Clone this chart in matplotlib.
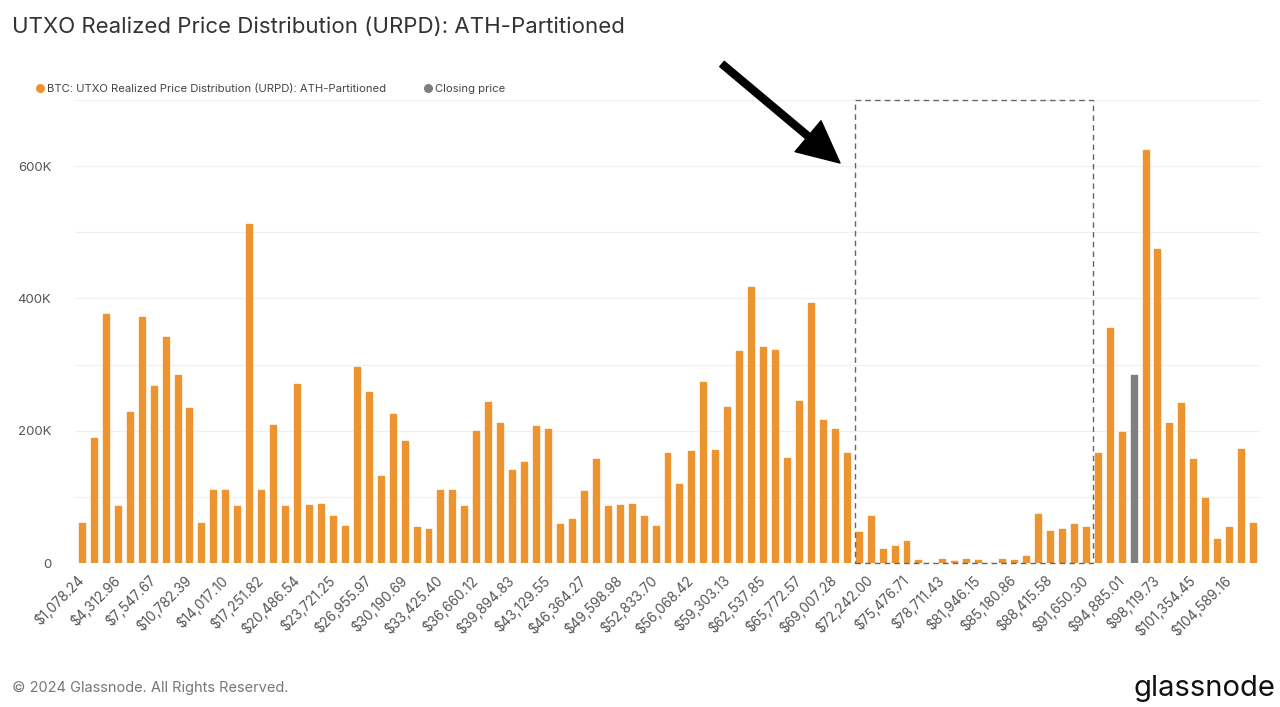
import matplotlib
matplotlib.use("Agg")
import matplotlib.pyplot as plt
from matplotlib.lines import Line2D
from matplotlib.patches import Rectangle
from matplotlib.ticker import MultipleLocator, FuncFormatter

plt.rcParams['font.family'] = ['Inter', 'DejaVu Sans']

# ---- data ----
supply_k = [61, 189, 377, 86, 229, 372, 268, 342, 284, 234,
            61, 111, 111, 86, 512, 111, 209, 86, 271, 87,
            89, 71, 56, 296, 258, 131, 226, 184, 55, 52,
            111, 111, 86, 199, 243, 212, 140, 153, 207, 202,
            59, 66, 109, 157, 86, 87, 89, 71, 56, 167,
            119, 169, 273, 171, 236, 320, 417, 327, 322, 159,
            245, 393, 216, 202, 167, 47, 71, 21, 26, 34,
            4.5, 0.5, 6, 2.5, 6, 4.5, 0.5, 6, 4.5, 10,
            74, 49, 52, 59, 54, 167, 355, 198, 284, 624,
            474, 212, 242, 157, 99, 36, 54, 172, 61]
closing_bin = 89  # bin (1-based) holding the closing price
tick_labels = ["$1,078.24", "$4,312.96", "$7,547.67", "$10,782.39", "$14,017.10",
               "$17,251.82", "$20,486.54", "$23,721.25", "$26,955.97", "$30,190.69",
               "$33,425.40", "$36,660.12", "$39,894.83", "$43,129.55", "$46,364.27",
               "$49,598.98", "$52,833.70", "$56,068.42", "$59,303.13", "$62,537.85",
               "$65,772.57", "$69,007.28", "$72,242.00", "$75,476.71", "$78,711.43",
               "$81,946.15", "$85,180.86", "$88,415.58", "$91,650.30", "$94,885.01",
               "$98,119.73", "$101,354.45", "$104,589.16"]
series_name = "BTC: UTXO Realized Price Distribution (URPD): ATH-Partitioned"
closing_name = "Closing price"
title = "UTXO Realized Price Distribution (URPD): ATH-Partitioned"

bins = list(range(1, len(supply_k) + 1))
supply = [v * 1000 for v in supply_k]

ORANGE = "#EC9530"
GREY = "#7F7F7F"

fig = plt.figure(figsize=(12.8, 7.07), dpi=100)
ax = fig.add_axes([75 / 1280, 1 - 563 / 707, (1260 - 75) / 1280, (563 - 100) / 707])

colors = [GREY if b == closing_bin else ORANGE for b in bins]
ax.bar(bins, supply, width=0.5, color=colors, edgecolor=colors,
       linewidth=1.0, joinstyle='round', zorder=3)

ax.set_xlim(0.42, 99.58)
ax.set_ylim(0, 700000)

ax.set_xticks(bins[::3])
ax.set_xticklabels(tick_labels, rotation=45, ha='right', va='center',
                   rotation_mode='anchor', fontsize=9.8, color='#555555')
ax.tick_params(axis='x', length=0, pad=11)

ax.yaxis.set_major_locator(MultipleLocator(200000))
ax.yaxis.set_minor_locator(MultipleLocator(100000))
ax.yaxis.set_major_formatter(FuncFormatter(lambda v, p: "0" if v == 0 else f"{int(v/1000)}K"))
ax.tick_params(axis='y', which='both', length=0, pad=17, labelsize=9.5, labelcolor='#555555')
ax.grid(axis='y', which='both', color='#F0F0F0', linewidth=0.9, zorder=0)
ax.grid(axis='x', visible=False)
for s in ax.spines.values():
    s.set_visible(False)

# dashed highlight box
ax.add_patch(Rectangle((65.68, 0), 85.57 - 65.68, 700000,
                       fill=False, edgecolor='#666666', linestyle=(0, (4, 3)),
                       linewidth=1.0, zorder=4, clip_on=False))

# arrow
ax.annotate('', xy=(840, 707 - 163), xytext=(722, 707 - 64),
            xycoords='figure pixels', textcoords='figure pixels',
            arrowprops=dict(arrowstyle='simple,head_length=30,head_width=29,tail_width=5',
                            color='black', shrinkA=0, shrinkB=0, mutation_scale=1))

# title
fig.text(12 / 1280, 1 - 27 / 707, title, fontsize=16, color='#333333', va='center', ha='left')

# legend
handles = [Line2D([], [], marker='o', linestyle='', color=ORANGE, markersize=5.5),
           Line2D([], [], marker='o', linestyle='', color=GREY, markersize=5.5)]
fig.legend(handles, [series_name, closing_name], loc='center left',
           bbox_to_anchor=(34 / 1280, 1 - 89 / 707), ncol=2, frameon=False,
           fontsize=8.1, labelcolor='#444444', handletextpad=0.15,
           columnspacing=3.2, handlelength=1.0, borderaxespad=0, borderpad=0)

# footer
fig.text(12 / 1280, 1 - 688 / 707, "© 2024 Glassnode. All Rights Reserved.",
         fontsize=10.5, color='#777777', va='center', ha='left')
fig.text(1275 / 1280, 1 - 688 / 707, "glassnode", fontsize=21, color='#111111',
         va='center', ha='right')

fig.savefig("out.png", dpi=100, facecolor='white')
